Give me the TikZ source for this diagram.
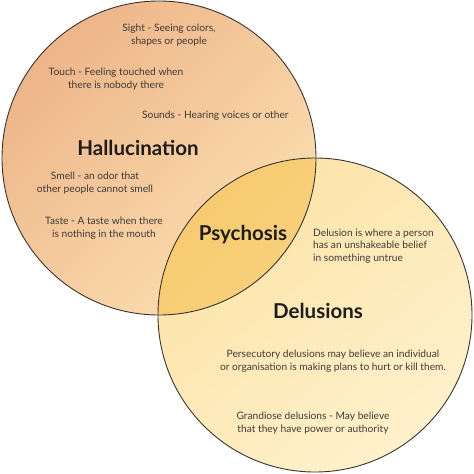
\documentclass[tikz,border=0pt]{standalone}
\usepackage{fontspec}
\setmainfont{Lato}
\definecolor{edge}{HTML}{3A3430}
\definecolor{txt}{HTML}{3F3A36}
\definecolor{ttl}{HTML}{1E1C1A}
\definecolor{hA}{HTML}{EDB589}
\definecolor{hB}{HTML}{FCE0B2}
\definecolor{dA}{HTML}{FCE3A6}
\definecolor{dB}{HTML}{FFF1CC}
\definecolor{pA}{HTML}{F7CB70}
\definecolor{pB}{HTML}{FADC94}
\tikzset{
  small/.style={text=txt,font=\fontsize{10.2}{12.8}\selectfont,align=center,inner sep=0pt},
  title/.style={text=ttl,font=\fontsize{20.5}{22}\selectfont\bfseries,inner sep=0pt},
  ring/.style={draw=edge,line width=0.9pt}
}
\begin{document}
\begin{tikzpicture}[x=1pt,y=-1pt]
\useasboundingbox (0,0) rectangle (474,474);
\coordinate (c1) at (159,158);
\coordinate (c2) at (315,315);
% fills
\shade[top color=hA,bottom color=hB,shading angle=45] (c1) circle[radius=157];
\shade[top color=dA,bottom color=dB,shading angle=40] (c2) circle[radius=157];
\begin{scope}
  \clip (c1) circle[radius=157];
  \shade[top color=pA,bottom color=pB,shading angle=45] (c2) circle[radius=157];
\end{scope}
\draw[ring] (c1) circle[radius=157];
\draw[ring] (c2) circle[radius=157];
% texts
\node[small] (sight) at (169,35.5) {Sight - Seeing colors,\\shapes or people};
\node[small] (touch) at (116,79) {Touch - Feeling touched when\\there is nobody there};
\node[small,anchor=west] (sounds) at (142,116) {Sounds - Hearing voices or other};
\node[title] (hall) at (138,148) {Hallucination};
\node[small] (smell) at (95,183.5) {Smell - an odor that\\other people cannot smell};
\node[small] (taste) at (104,228) {Taste - A taste when there\\is nothing in the mouth};
\node[title] (psy) at (243,235) {Psychosis};
\node[small,align=left,anchor=west] (delu) at (313,246) {Delusion is where a person\\has an unshakeable belief\\in something untrue};
\node[title] (dels) at (318,311) {Delusions};
\node[small] (pers) at (333,361) {Persecutory delusions may believe an individual\\or organisation is making plans to hurt or kill them.};
\node[small] (gran) at (313,423.5) {Grandiose delusions - May believe\\that they have power or authority};
\end{tikzpicture}
\end{document}
